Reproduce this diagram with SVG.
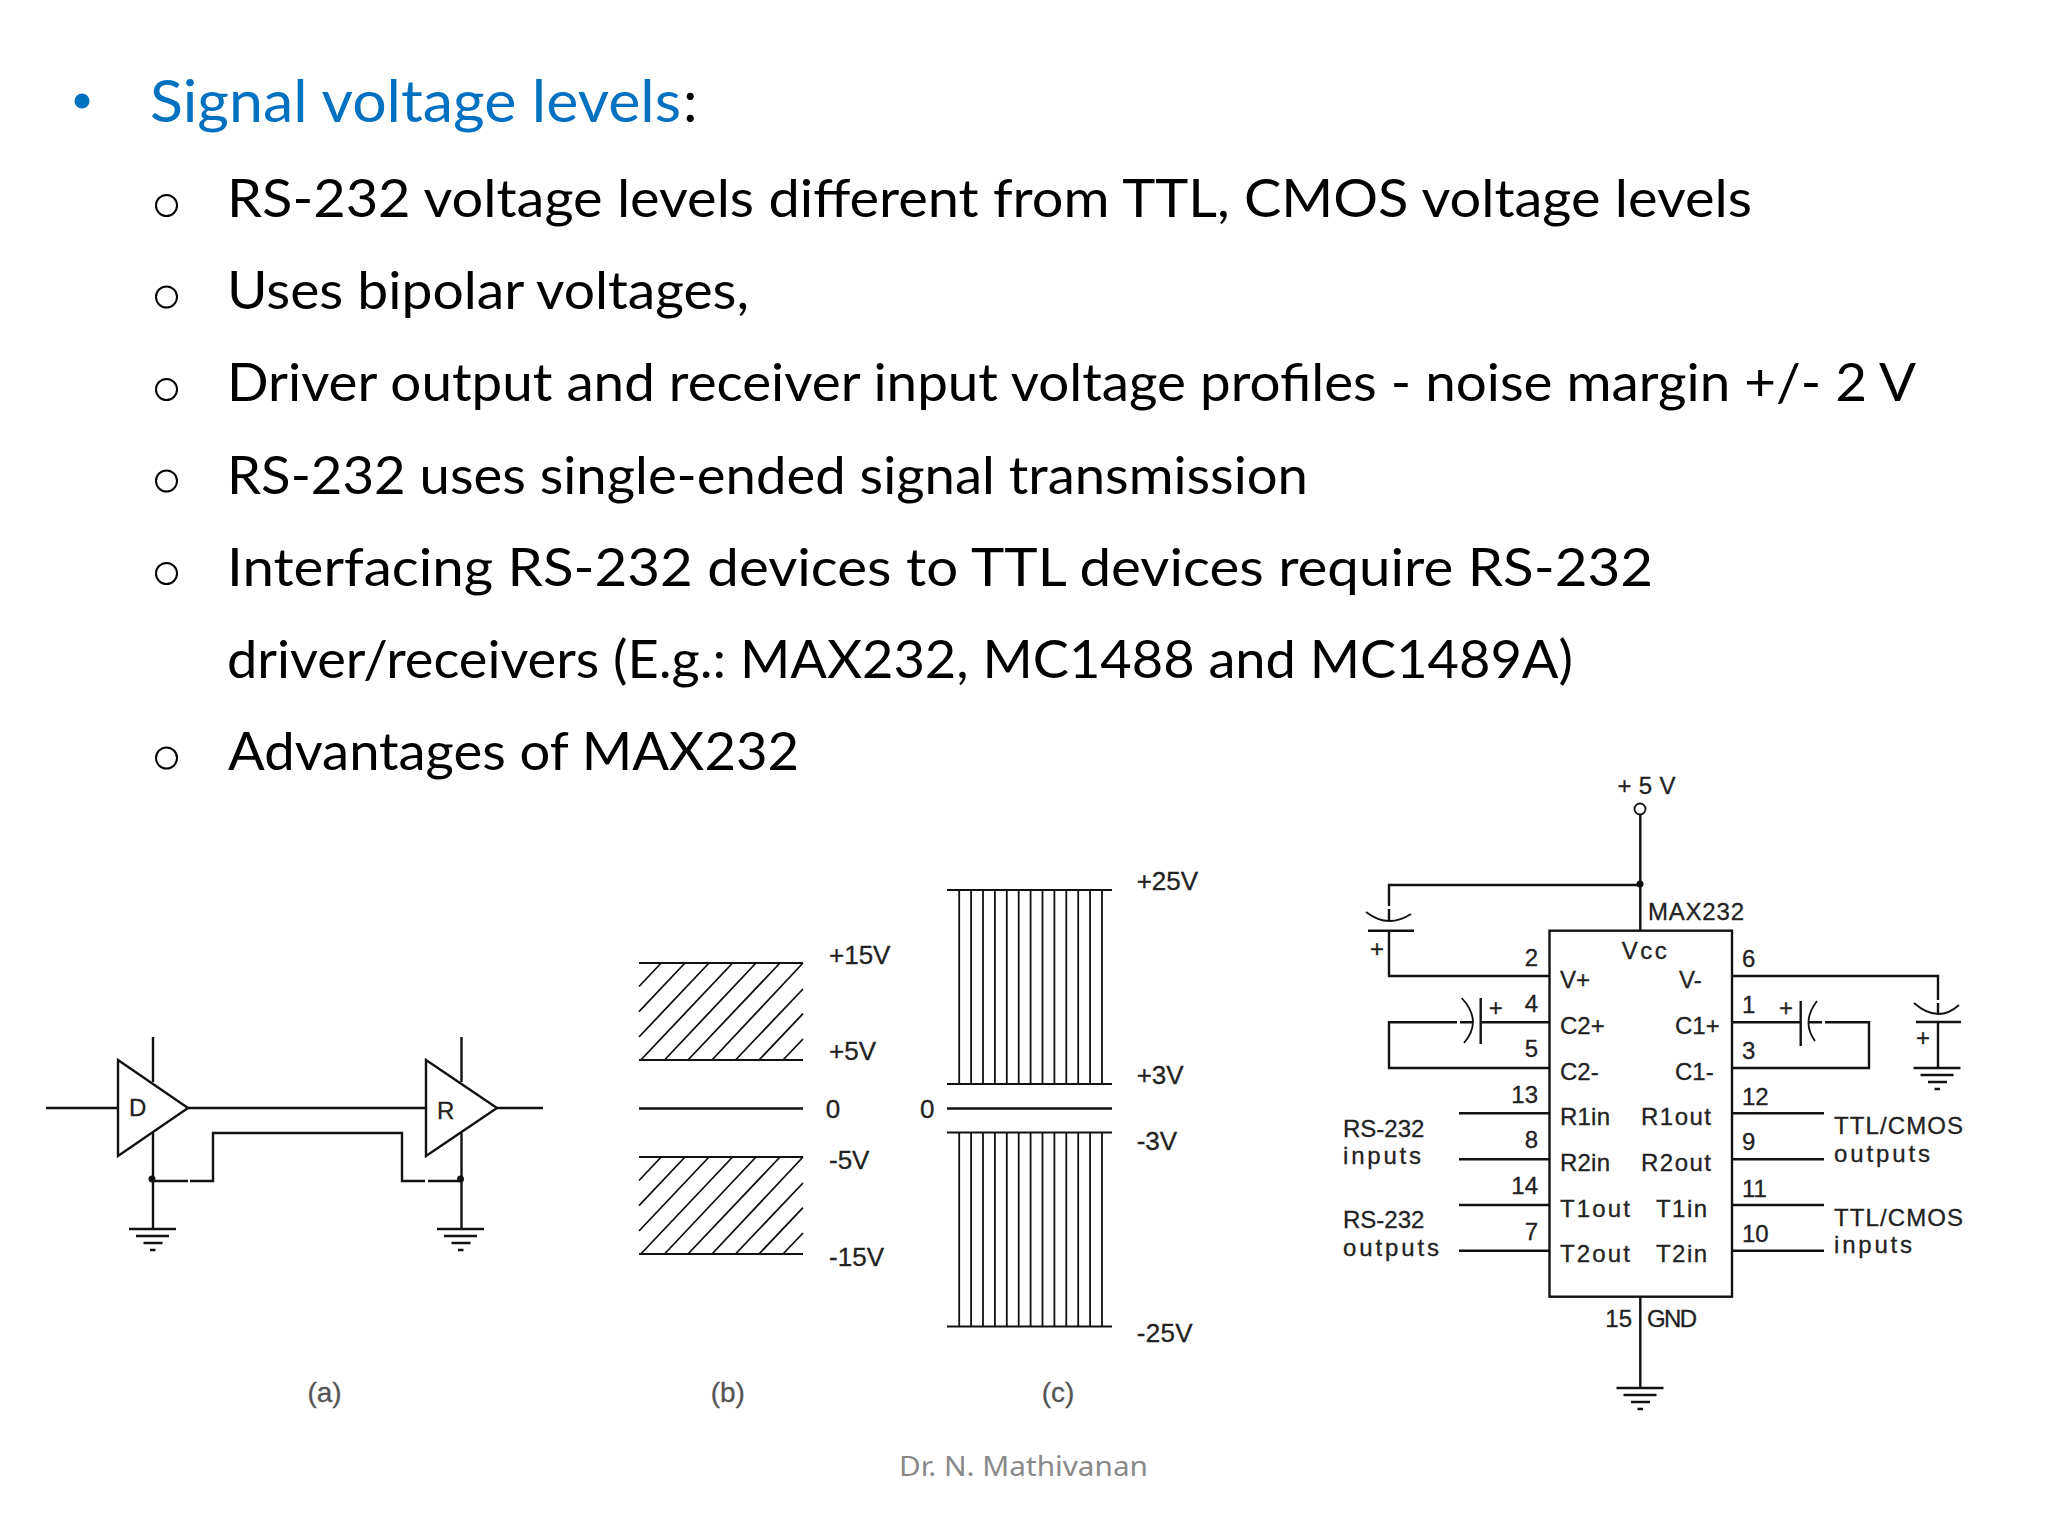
<svg xmlns="http://www.w3.org/2000/svg" xmlns:xlink="http://www.w3.org/1999/xlink" width="2048" height="1536" viewBox="0 0 2048 1536">
<style>
.w{fill:none;stroke:#111;stroke-width:2.4}
.t{stroke-width:1.800}
.body{font-family:"Lato","Noto Sans",sans-serif;font-size:52px;fill:#000}
.title{font-family:"Lato","Noto Sans",sans-serif;font-size:58px;fill:#0070c0}
.c{font-family:"Liberation Sans",Arial,sans-serif;font-size:24px;fill:#222;stroke:#222;stroke-width:.3}
.l{font-size:26px}
.e{text-anchor:end}
.m{text-anchor:middle;fill:#555;stroke:#555;font-size:28px}
.foot{font-family:"Noto Sans",sans-serif;font-size:28px;fill:#898989}
.o{fill:none;stroke:#000;stroke-width:2}
</style>
<defs>
<g id="gnd" class="w"><path d="M-23.500 0H23.500M-16.500 7H16.500M-9 14H10M-2.500 21H3"/></g>
<g id="hatch" class="w t"><path d="M661.200 964L639 987.500M685 964L639 1012.600M709 964L639 1038M732.600 964L640.800 1061M756 964L664.500 1061M780 964L688 1061M803 964L712 1061M803 990L735.500 1061M803 1014.700L759 1061M803 1040L783 1061"/><path d="M639 964H803M639 1061H803"/></g>
<g id="bars" class="w t"><path d="M959.200 0V194M971.100 0V194M983 0V194M994.900 0V194M1006.800 0V194M1018.700 0V194M1030.600 0V194M1042.500 0V194M1054.400 0V194M1066.300 0V194M1078.200 0V194M1090.100 0V194M1102 0V194"/><path d="M947 0H1112M947 194H1112"/></g>
</defs>
<rect width="2048" height="1536" fill="#fff"/>

<g id="slide-text">
<circle cx="82" cy="101" r="7.500" fill="#0070c0"/>
<text class="title" x="150" y="122" textLength="531" lengthAdjust="spacingAndGlyphs">Signal voltage levels</text>
<text class="title" x="683" y="122" style="fill:#000">:</text>
<circle class="o" cx="166.500" cy="205.500" r="10.500"/>
<text class="body" x="227" y="217" textLength="1525" lengthAdjust="spacingAndGlyphs">RS-232 voltage levels different from TTL, CMOS voltage levels</text>
<circle class="o" cx="166.500" cy="297" r="10.500"/>
<text class="body" x="227" y="309" textLength="522" lengthAdjust="spacingAndGlyphs">Uses bipolar voltages,</text>
<circle class="o" cx="166.500" cy="389.500" r="10.500"/>
<text class="body" x="227" y="401" textLength="1689" lengthAdjust="spacingAndGlyphs">Driver output and receiver input voltage profiles - noise margin +/- 2 V</text>
<circle class="o" cx="166.500" cy="481" r="10.500"/>
<text class="body" x="227" y="494" textLength="1081" lengthAdjust="spacingAndGlyphs">RS-232 uses single-ended signal transmission</text>
<circle class="o" cx="166.500" cy="573.500" r="10.500"/>
<text class="body" x="227" y="586" textLength="1426" lengthAdjust="spacingAndGlyphs">Interfacing RS-232 devices to TTL devices require RS-232</text>
<text class="body" x="227" y="678" textLength="1346" lengthAdjust="spacingAndGlyphs">driver/receivers (E.g.: MAX232, MC1488 and MC1489A)</text>
<circle class="o" cx="166.500" cy="758" r="10.500"/>
<text class="body" x="228" y="770" textLength="571" lengthAdjust="spacingAndGlyphs">Advantages of MAX232</text>
<text class="foot" x="899" y="1476" textLength="249" lengthAdjust="spacingAndGlyphs">Dr. N. Mathivanan</text>
</g>

<g id="connectors">
<g id="a-wires" class="w">
<path d="M46 1108H118M188 1108H426M497 1108H543"/>
<path d="M153 1037V1082M153 1133V1229M461.500 1037V1082M461.500 1133V1229"/>
<path d="M153 1181H188M190 1181H213V1133H402V1181H425M428 1181H461"/>
</g>
<g id="chip-wires" class="w">
<path d="M1640.300 815V931"/>
<path d="M1640 885H1389V906M1389 909V921"/>
<path d="M1389 931V976H1549.500"/>
<path d="M1549.500 1022.300H1481M1472 1022.300H1460M1457 1022.300H1389V1068H1549.500"/>
<path d="M1732 976H1938V1000M1938 1003V1013M1938 1022V1068"/>
<path d="M1732 1022.300H1801M1809 1022.300H1822M1825 1022.300H1869V1068H1732"/>
<path d="M1459 1113.300H1549.500M1459 1159.300H1549.500M1459 1205H1549.500M1459 1250.700H1549.500"/>
<path d="M1732 1113.300H1824M1732 1159.300H1824M1732 1205H1824M1732 1250.700H1824"/>
<path d="M1640.300 1297V1388"/>
</g>
</g>

<g id="driver">
<path class="w" d="M118 1060L188 1108L118 1156Z"/>
<text class="c" x="129" y="1116">D</text>
<circle cx="152" cy="1179" r="3.500" fill="#111"/>
<use xlink:href="#gnd" href="#gnd" x="152.500" y="1229"/>
</g>
<g id="receiver">
<path class="w" d="M426 1060L497 1108L426 1156Z"/>
<text class="c" x="437" y="1119">R</text>
<circle cx="460.500" cy="1179" r="3.500" fill="#111"/>
<use xlink:href="#gnd" href="#gnd" x="460.500" y="1229"/>
</g>
<text id="label-a" class="c m" x="324.500" y="1402">(a)</text>

<g id="levels-b">
<use xlink:href="#hatch" href="#hatch" y="-1"/>
<use xlink:href="#hatch" href="#hatch" y="193"/>
<path class="w" d="M639 1108.500H803"/>
<text class="c l" x="829" y="964">+15V</text>
<text class="c l" x="829" y="1060">+5V</text>
<text class="c l" x="825.700" y="1118">0</text>
<text class="c l" x="829" y="1168.500">-5V</text>
<text class="c l" x="829" y="1265.500" textLength="55">-15V</text>
<text class="c m" x="727.800" y="1402">(b)</text>
</g>
<g id="levels-c">
<use xlink:href="#bars" href="#bars" y="890"/>
<use xlink:href="#bars" href="#bars" y="1132.500"/>
<path class="w" d="M947 1108.500H1112"/>
<text class="c l" x="920" y="1118">0</text>
<text class="c l" x="1136.700" y="890">+25V</text>
<text class="c l" x="1136.700" y="1083.500">+3V</text>
<text class="c l" x="1136.700" y="1149.500">-3V</text>
<text class="c l" x="1136.700" y="1342" textLength="56">-25V</text>
<text class="c m" x="1058" y="1402">(c)</text>
</g>

<g id="supply">
<circle cx="1640" cy="809" r="5.500" fill="#fff" stroke="#111" stroke-width="1.800"/>
<circle cx="1640" cy="884" r="3.500" fill="#111"/>
<text class="c" x="1617.500" y="794" textLength="58">+ 5 V</text>
</g>
<g id="max232">
<rect class="w" x="1549.500" y="930.700" width="182.500" height="366"/>
<text class="c" x="1648" y="920" textLength="96">MAX232</text>
<text class="c" x="1621.700" y="959" textLength="45">Vcc</text>
<text class="c" x="1560" y="988">V+</text>
<text class="c" x="1560" y="1034">C2+</text>
<text class="c" x="1560" y="1080">C2-</text>
<text class="c" x="1560" y="1125" textLength="50">R1in</text>
<text class="c" x="1560" y="1171" textLength="50">R2in</text>
<text class="c" x="1560" y="1216.700" textLength="70">T1out</text>
<text class="c" x="1560" y="1262" textLength="70">T2out</text>
<text class="c" x="1679" y="988">V-</text>
<text class="c" x="1675" y="1034">C1+</text>
<text class="c" x="1675" y="1080">C1-</text>
<text class="c" x="1641" y="1125" textLength="70">R1out</text>
<text class="c" x="1641" y="1171" textLength="70">R2out</text>
<text class="c" x="1656" y="1216.700" textLength="51">T1in</text>
<text class="c" x="1656" y="1262" textLength="51">T2in</text>
<text class="c" x="1647" y="1327" textLength="50">GND</text>
</g>
<g id="pin-numbers">
<text class="c e" x="1538" y="966">2</text>
<text class="c e" x="1538" y="1011.700">4</text>
<text class="c e" x="1538" y="1057.300">5</text>
<text class="c e" x="1538" y="1102.700">13</text>
<text class="c e" x="1538" y="1148.300">8</text>
<text class="c e" x="1538" y="1194.300">14</text>
<text class="c e" x="1538" y="1240">7</text>
<text class="c e" x="1632" y="1327">15</text>
<text class="c" x="1742" y="967">6</text>
<text class="c" x="1742" y="1013">1</text>
<text class="c" x="1742" y="1059">3</text>
<text class="c" x="1742" y="1105">12</text>
<text class="c" x="1742" y="1150">9</text>
<text class="c" x="1742" y="1197">11</text>
<text class="c" x="1742" y="1242">10</text>
</g>
<g id="io-labels">
<text class="c" x="1343" y="1137">RS-232</text>
<text class="c" x="1343" y="1164" textLength="78">inputs</text>
<text class="c" x="1343" y="1228">RS-232</text>
<text class="c" x="1343" y="1256" textLength="96">outputs</text>
<text class="c" x="1834" y="1134" textLength="129">TTL/CMOS</text>
<text class="c" x="1834" y="1162" textLength="96">outputs</text>
<text class="c" x="1834" y="1226" textLength="129">TTL/CMOS</text>
<text class="c" x="1834" y="1253" textLength="78">inputs</text>
</g>
<g id="cap-supply">
<path class="w t" d="M1366 912Q1388 929 1411 914"/>
<path class="w" d="M1368 930.700H1414"/>
<text class="c" x="1377" y="957" text-anchor="middle">+</text>
</g>
<g id="cap-c2">
<path class="w t" d="M1461.700 998Q1483 1021 1464 1043"/>
<path class="w" d="M1480.700 998V1044"/>
<text class="c" x="1495.700" y="1016" text-anchor="middle">+</text>
</g>
<g id="cap-c1">
<path class="w t" d="M1817 1001Q1801 1022 1815 1041"/>
<path class="w" d="M1800.700 1001V1046"/>
<text class="c" x="1786" y="1016" text-anchor="middle">+</text>
</g>
<g id="cap-vminus">
<path class="w t" d="M1914 1003Q1938 1024 1959 1005"/>
<path class="w" d="M1916 1022H1961"/>
<text class="c" x="1923" y="1046" text-anchor="middle">+</text>
<use xlink:href="#gnd" href="#gnd" x="1937" y="1068"/>
</g>
<g id="gnd-chip"><use xlink:href="#gnd" href="#gnd" x="1640" y="1388"/></g>
</svg>
